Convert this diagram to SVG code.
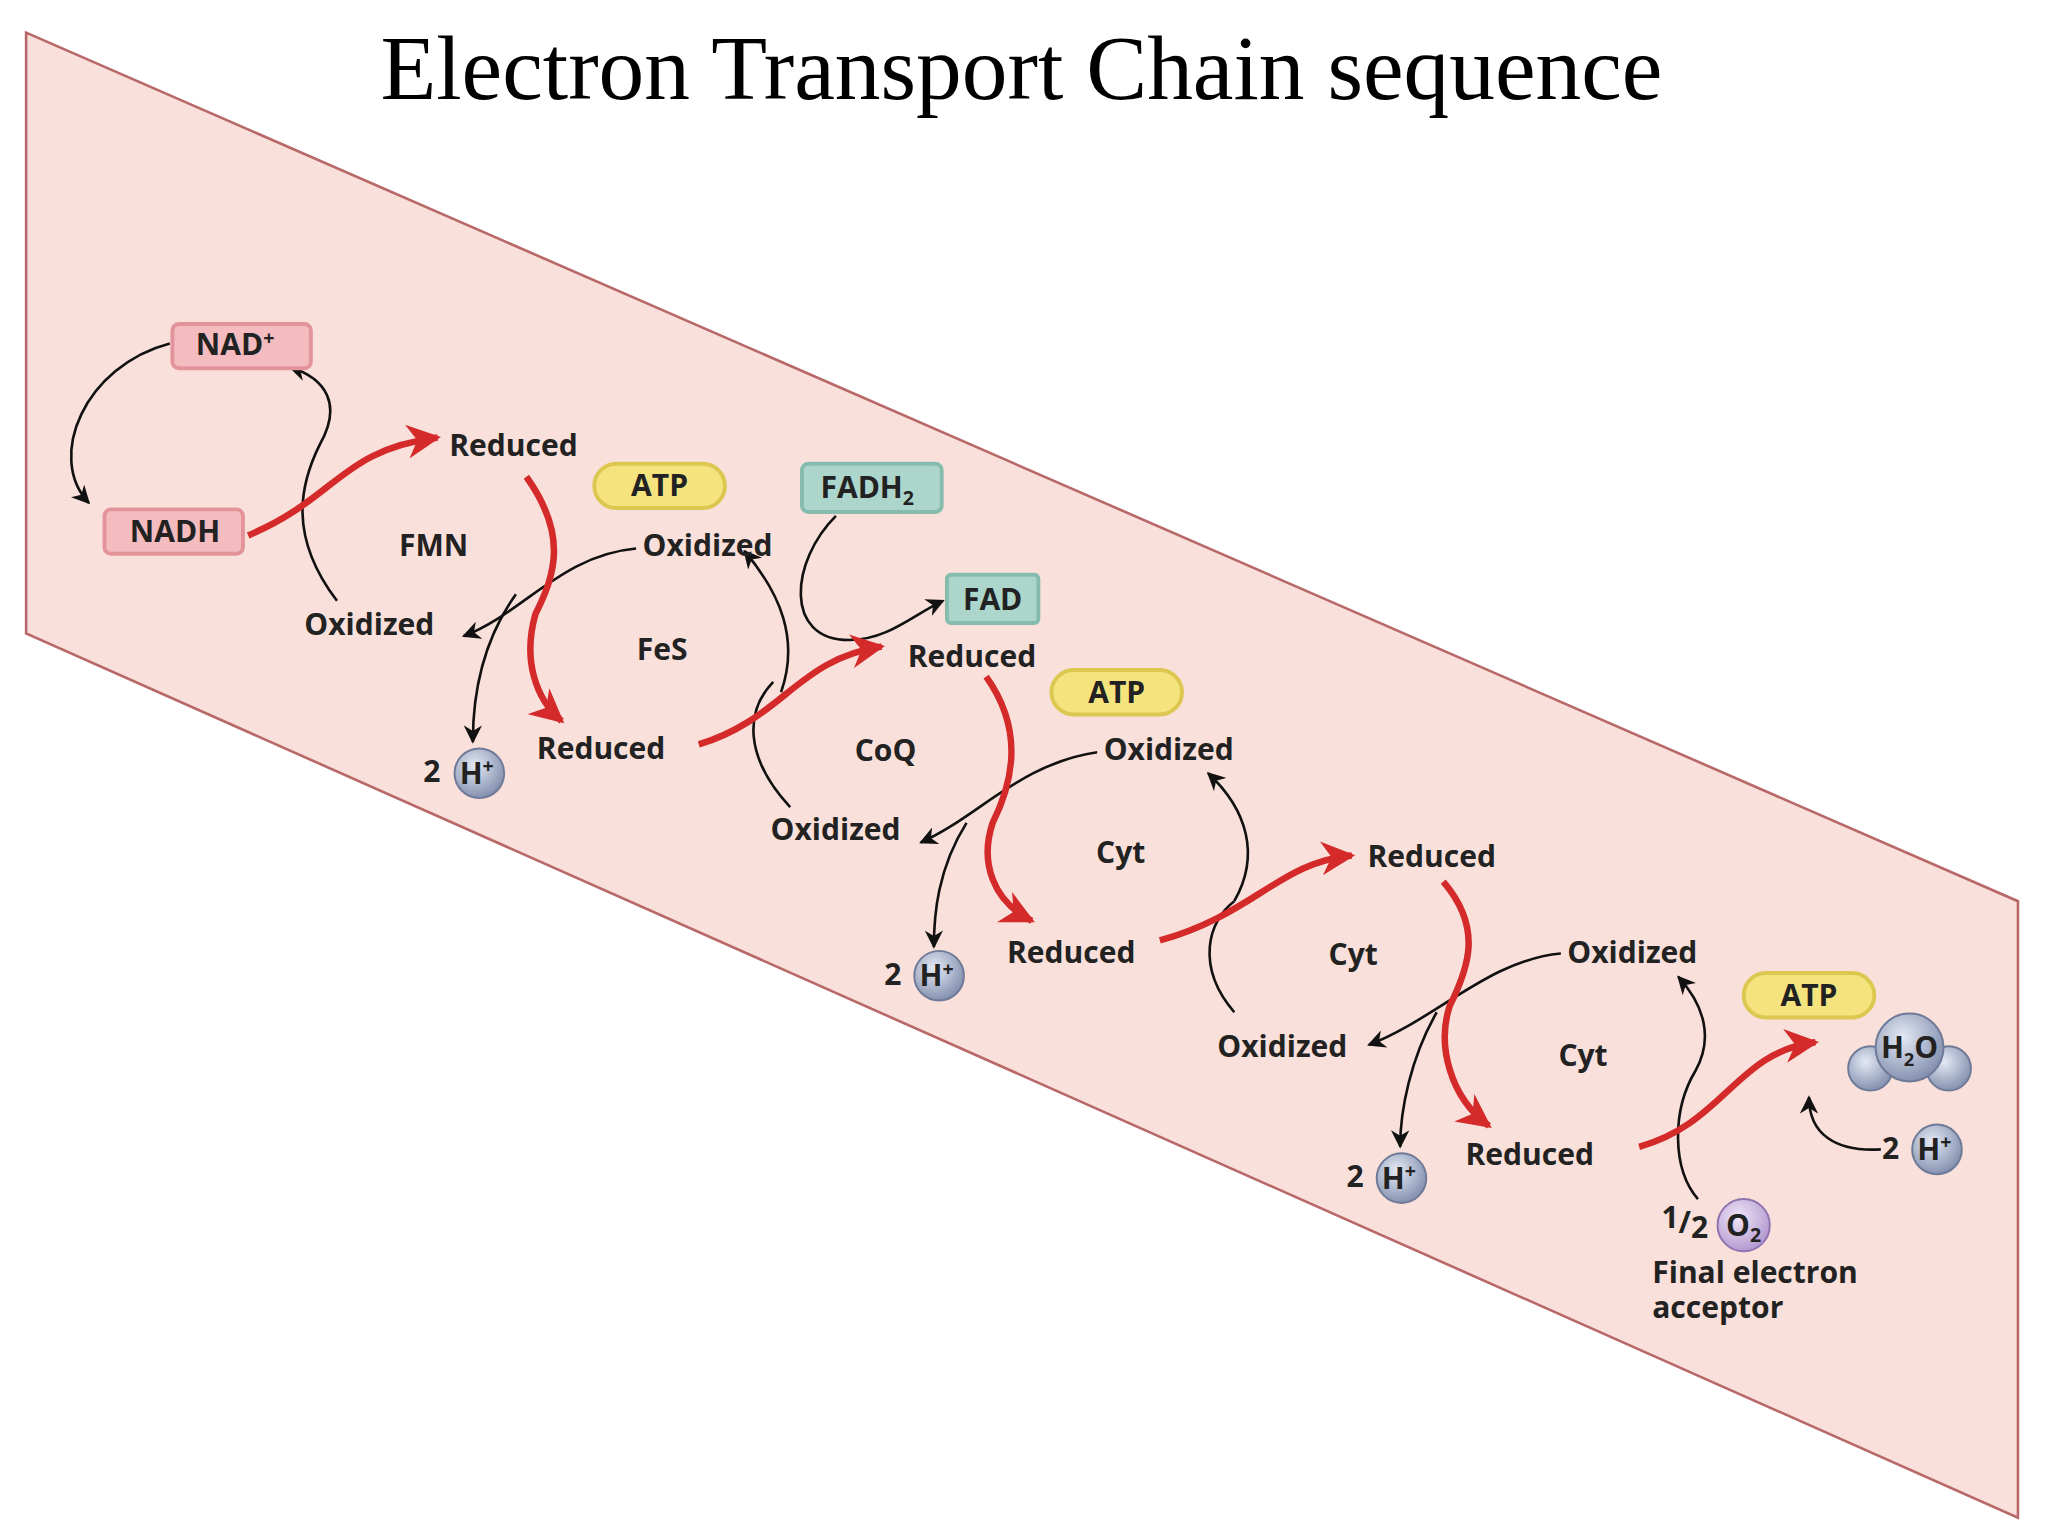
<svg xmlns="http://www.w3.org/2000/svg" width="2048" height="1536" viewBox="0 0 2048 1536">
<defs>
<marker id="ab" viewBox="0 0 10 10" refX="9" refY="5" markerWidth="14" markerHeight="14" markerUnits="userSpaceOnUse" orient="auto"><path d="M0,0 L10,5 L0,10 L3,5 z" fill="#111"/></marker>
<marker id="ar" viewBox="0 0 10 10" refX="9" refY="5" markerWidth="26" markerHeight="26" markerUnits="userSpaceOnUse" orient="auto"><path d="M0,0 L10,5 L0,10 L3,5 z" fill="#d42a2a"/></marker>
<radialGradient id="hg" cx="40%" cy="35%" r="65%"><stop offset="0" stop-color="#e4e9f4"/><stop offset="1" stop-color="#8592b0"/></radialGradient>
<radialGradient id="og" cx="40%" cy="35%" r="65%"><stop offset="0" stop-color="#f0e6f8"/><stop offset="1" stop-color="#b49ad0"/></radialGradient>
</defs>
<style>
.t{font-family:"Open Sans","DejaVu Sans",sans-serif;font-weight:700;font-size:23px;fill:#222}
.m{text-anchor:middle}
.b{fill:none;stroke:#111;stroke-width:2}
.r{fill:none;stroke:#d42a2a;stroke-width:5}
.pk{fill:#f5bcc0;stroke:#e3949a;stroke-width:3}
.tl{fill:#acd6cb;stroke:#86bcae;stroke-width:3}
.atp{fill:#f5e47e;stroke:#dcc850;stroke-width:3}
.h{fill:url(#hg);stroke:#6e7a98;stroke-width:1.5}
</style>
<rect width="2048" height="1536" fill="#fff"/>
<g transform="scale(1.30612)">
<polygon points="20,25 1545,690 1545,1162 20,485" fill="#f9e0da" stroke="#b86868" stroke-width="2"/>
<text x="782" y="76" text-anchor="middle" font-family="Liberation Serif,serif" font-size="70" fill="#000">Electron Transport Chain sequence</text>

<g id="connectors">
<path class="b" d="M130,263 C65,280 35,350 68,385" marker-end="url(#ab)"/>
<path class="b" d="M258,460 C220,410 230,370 245,340 C262,310 250,290 222,281" marker-end="url(#ab)"/>
<path class="b" d="M487,420 C430,425 400,470 355,487" marker-end="url(#ab)"/>
<path class="b" d="M395,455 C370,490 362,530 362,568" marker-end="url(#ab)"/>
<path class="b" d="M598,530 C612,490 598,455 570,422" marker-end="url(#ab)"/>
<path class="b" d="M640,395 C605,430 600,490 650,490 C680,490 700,470 722,460" marker-end="url(#ab)"/>
<path class="b" d="M605,618 C570,580 570,545 592,522"/>
<path class="b" d="M840,576 C780,585 750,625 705,645" marker-end="url(#ab)"/>
<path class="b" d="M740,630 C718,665 715,700 715,725" marker-end="url(#ab)"/>
<path class="b" d="M945,690 C965,655 955,620 925,592" marker-end="url(#ab)"/>
<path class="b" d="M945,775 C915,740 925,705 945,690"/>
<path class="b" d="M1195,730 C1140,735 1100,780 1048,800" marker-end="url(#ab)"/>
<path class="b" d="M1100,775 C1080,810 1072,850 1072,878" marker-end="url(#ab)"/>
<path class="b" d="M1300,918 C1280,895 1280,850 1298,820 C1312,795 1305,770 1285,748" marker-end="url(#ab)"/>
<path class="b" d="M1440,880 C1405,882 1385,868 1385,840" marker-end="url(#ab)"/>
<path class="r" d="M190,410 C260,380 260,345 335,335" marker-end="url(#ar)"/>
<path class="r" d="M403,365 C435,410 425,440 410,470 C400,505 410,535 430,552" marker-end="url(#ar)"/>
<path class="r" d="M535,570 C600,550 610,505 675,495" marker-end="url(#ar)"/>
<path class="r" d="M755,518 C785,560 775,600 760,630 C750,660 760,690 790,705" marker-end="url(#ar)"/>
<path class="r" d="M888,720 C960,700 980,660 1035,655" marker-end="url(#ar)"/>
<path class="r" d="M1105,675 C1135,710 1125,740 1110,770 C1100,800 1110,840 1140,862" marker-end="url(#ar)"/>
<path class="r" d="M1255,878 C1320,860 1330,805 1390,798" marker-end="url(#ar)"/>
</g>

<g id="nadp"><rect class="pk" x="132" y="248" width="106" height="34" rx="5"/><text class="t m" x="180" y="272">NAD<tspan font-size="15" dy="-8">+</tspan></text></g>
<g id="nadh"><rect class="pk" x="80" y="390" width="106" height="34" rx="5"/><text class="t m" x="134" y="415">NADH</text></g>
<g id="fadh2"><rect class="tl" x="614" y="355" width="107" height="37" rx="5"/><text class="t m" x="664" y="381">FADH<tspan font-size="15" dy="6">2</tspan></text></g>
<g id="fad"><rect class="tl" x="725" y="440" width="70" height="37" rx="3"/><text class="t m" x="760" y="467">FAD</text></g>
<g id="atp1"><rect class="atp" x="455" y="355" width="100" height="34" rx="17"/><text class="t m" x="505" y="380">ATP</text></g>
<g id="atp2"><rect class="atp" x="805" y="513" width="100" height="34" rx="17"/><text class="t m" x="855" y="538">ATP</text></g>
<g id="atp3"><rect class="atp" x="1335" y="745" width="100" height="34" rx="17"/><text class="t m" x="1385" y="770">ATP</text></g>

<g id="labels">
<text class="t" x="344" y="349">Reduced</text>
<text class="t m" x="332" y="426">FMN</text>
<text class="t" x="492" y="426">Oxidized</text>
<text class="t" x="233" y="486">Oxidized</text>
<text class="t m" x="507" y="505">FeS</text>
<text class="t" x="695" y="511">Reduced</text>
<text class="t" x="411" y="581">Reduced</text>
<text class="t m" x="678" y="583">CoQ</text>
<text class="t" x="845" y="582">Oxidized</text>
<text class="t" x="590" y="643">Oxidized</text>
<text class="t m" x="858" y="661">Cyt</text>
<text class="t" x="1047" y="664">Reduced</text>
<text class="t" x="771" y="737">Reduced</text>
<text class="t m" x="1036" y="739">Cyt</text>
<text class="t" x="1200" y="737">Oxidized</text>
<text class="t" x="932" y="809">Oxidized</text>
<text class="t m" x="1212" y="816">Cyt</text>
<text class="t" x="1122" y="892">Reduced</text>
<text class="t" x="1265" y="982" font-size="22">Final electron</text>
<text class="t" x="1265" y="1009" font-size="22">acceptor</text>
</g>

<g id="h1"><text class="t" x="324" y="599">2</text><circle class="h" cx="367" cy="592" r="19"/><text class="t m" x="365" y="600">H<tspan font-size="15" dy="-8">+</tspan></text></g>
<g id="h2"><text class="t" x="677" y="754">2</text><circle class="h" cx="719" cy="747" r="19"/><text class="t m" x="717" y="755">H<tspan font-size="15" dy="-8">+</tspan></text></g>
<g id="h3"><text class="t" x="1031" y="909">2</text><circle class="h" cx="1073" cy="902" r="19"/><text class="t m" x="1071" y="910">H<tspan font-size="15" dy="-8">+</tspan></text></g>
<g id="h4"><text class="t" x="1441" y="887">2</text><circle class="h" cx="1483" cy="880" r="19"/><text class="t m" x="1481" y="888">H<tspan font-size="15" dy="-8">+</tspan></text></g>
<g id="o2"><text class="t" x="1272" y="940" font-size="15">1<tspan dy="4">/</tspan><tspan dy="4">2</tspan></text><circle cx="1335" cy="938" r="20" fill="url(#og)" stroke="#8f74b0" stroke-width="1.5"/><text class="t m" x="1335" y="946">O<tspan font-size="15" dy="5">2</tspan></text></g>
<g id="h2o"><circle class="h" cx="1432" cy="818" r="17"/><circle class="h" cx="1492" cy="818" r="17"/><circle class="h" cx="1462" cy="802" r="26"/><text class="t m" x="1462" y="810" font-size="21">H<tspan font-size="14" dy="6">2</tspan><tspan dy="-6">O</tspan></text></g>
</g>
</svg>
